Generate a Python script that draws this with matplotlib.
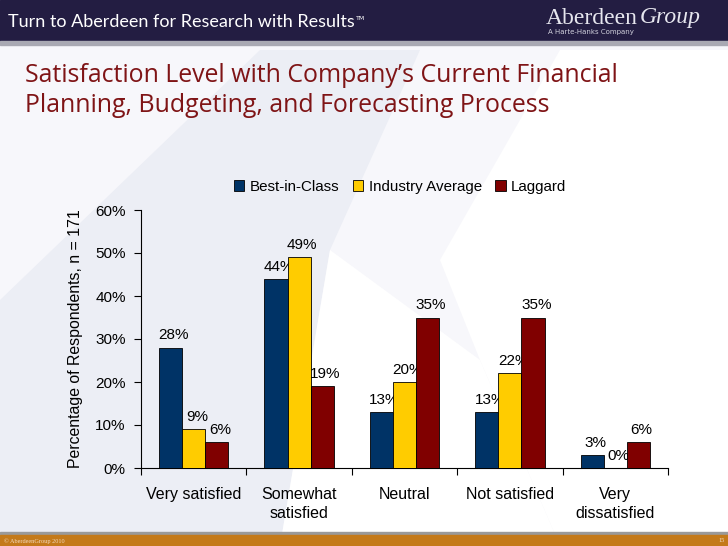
import matplotlib
matplotlib.use("Agg")
import matplotlib.pyplot as plt
from matplotlib.patches import Rectangle, Polygon
import numpy as np

categories = ["Very satisfied", "Somewhat\nsatisfied", "Neutral", "Not satisfied", "Very\ndissatisfied"]
series_names = ["Best-in-Class", "Industry Average", "Laggard"]
best_in_class = [28, 44, 13, 13, 3]
industry_average = [9, 49, 20, 22, 0]
laggard = [6, 19, 35, 35, 6]
y_ticks = [0, 10, 20, 30, 40, 50, 60]
colors = ["#003366", "#FFCC00", "#800000"]

W, H = 728, 546
fig = plt.figure(figsize=(W / 100, H / 100), dpi=100)
fig.patch.set_facecolor("white")

# background decorative shapes (faint)
bg = fig.add_axes([0, 0, 1, 1], zorder=-10)
bg.set_xlim(0, W); bg.set_ylim(H, 0); bg.axis("off")
bg.add_patch(Rectangle((0, 0), W, H, color="#f7f7fb"))
bg.add_patch(Polygon([[0, 546], [0, 300], [260, 50], [420, 50], [330, 250], [280, 546]], closed=True, color="#eceef5", lw=0))
bg.add_patch(Polygon([[560, 50], [728, 50], [728, 546], [560, 546], [480, 360], [440, 260]], closed=True, color="#ffffff", lw=0))
bg.add_patch(Polygon([[280, 546], [330, 250], [480, 360], [560, 546]], closed=True, color="#ffffff", lw=0))
# header
bg.add_patch(Rectangle((0, 0), W, 41, color="#231d42"))
bg.add_patch(Rectangle((0, 41), W, 4, color="#a9a9b3"))
t_head = bg.text(8, 22, "Turn to Aberdeen for Research with Results", color="white", fontsize=13,
                 family="Lato", va="center", ha="left")
bg.annotate("TM", xy=(1, 1), xycoords=t_head, xytext=(1, -3), textcoords="offset points",
            color="white", fontsize=4.5, va="center", ha="left")
t_ab = bg.text(546, 18, "Aberdeen", color="#e6e6ee", fontsize=17, family="Liberation Serif", va="center", ha="left")
bg.annotate("Group", xy=(1, 0.5), xycoords=t_ab, xytext=(1, 0), textcoords="offset points",
            color="#e6e6ee", fontsize=17, family="Liberation Serif", style="italic", va="center", ha="left")
bg.text(548, 32, "A Harte-Hanks Company", color="#d0d0dc", fontsize=5, va="center", ha="left")
# footer
bg.add_patch(Rectangle((0, 532), W, 3, color="#9a9a9a"))
bg.add_patch(Rectangle((0, 535), W, 11, color="#c47a1a"))
bg.text(4, 541, "© AberdeenGroup 2010", color="#f3dcc0", fontsize=4.5, family="Liberation Serif", va="center")
bg.text(718, 541, "15", color="#f3dcc0", fontsize=4.5, family="Liberation Serif", va="center")

# title
fig.text(25 / W, 1 - 75 / H, "Satisfaction Level with Company\u2019s Current Financial",
         color="#7f1416", fontsize=17.9, family="Open Sans", va="center", ha="left")
fig.text(25 / W, 1 - 105 / H, "Planning, Budgeting, and Forecasting Process",
         color="#7f1416", fontsize=17.9, family="Open Sans", va="center", ha="left")

ax = fig.add_axes([141 / W, 1 - 468 / H, (668 - 141) / W, (468 - 210) / H])
ax.patch.set_alpha(0)
x = np.arange(len(categories))
bw = 0.22
series = [best_in_class, industry_average, laggard]
font = "Liberation Sans"
for i, (vals, c, name) in enumerate(zip(series, colors, series_names)):
    pos = x + (i - 1) * bw
    ax.bar(pos, vals, bw, color=c, edgecolor="black", linewidth=0.6, label=name, zorder=3)
    for p, v in zip(pos, vals):
        ax.text(p + 0.03, v + 1.2, f"{v}%", ha="center", va="bottom", fontsize=11, family=font)

ax.set_xlim(-0.5, 4.5)
ax.set_ylim(0, 60)
ax.set_yticks(y_ticks)
ax.set_yticklabels([f"{t}%" for t in y_ticks], fontsize=11, family=font)
ax.set_xticks(np.arange(-0.5, 5, 1))
ax.set_xticklabels([])
ax.set_xticks(x, minor=True)
ax.set_xticklabels(categories, minor=True, fontsize=11.5, family=font, linespacing=1.3)
ax.tick_params(axis="x", which="minor", length=0, pad=14)
ax.tick_params(axis="x", which="major", length=5, direction="out", width=0.8)
ax.tick_params(axis="y", length=5, width=0.8, pad=6)
for s in ["top", "right"]:
    ax.spines[s].set_visible(False)
for s in ["left", "bottom"]:
    ax.spines[s].set_linewidth(0.8)
ax.set_ylabel("Percentage of Respondents, n = 171", fontsize=11.4, family=font)
ax.yaxis.set_label_coords(-0.11, 0.5)

leg = fig.legend(loc="center", bbox_to_anchor=(400 / W, 1 - 187 / H), ncol=3, frameon=False,
                 prop={"family": font, "size": 10.9}, handlelength=0.7, handleheight=0.7,
                 handletextpad=0.35, columnspacing=0.9)

fig.savefig("out.png", dpi=100, facecolor=fig.get_facecolor())
